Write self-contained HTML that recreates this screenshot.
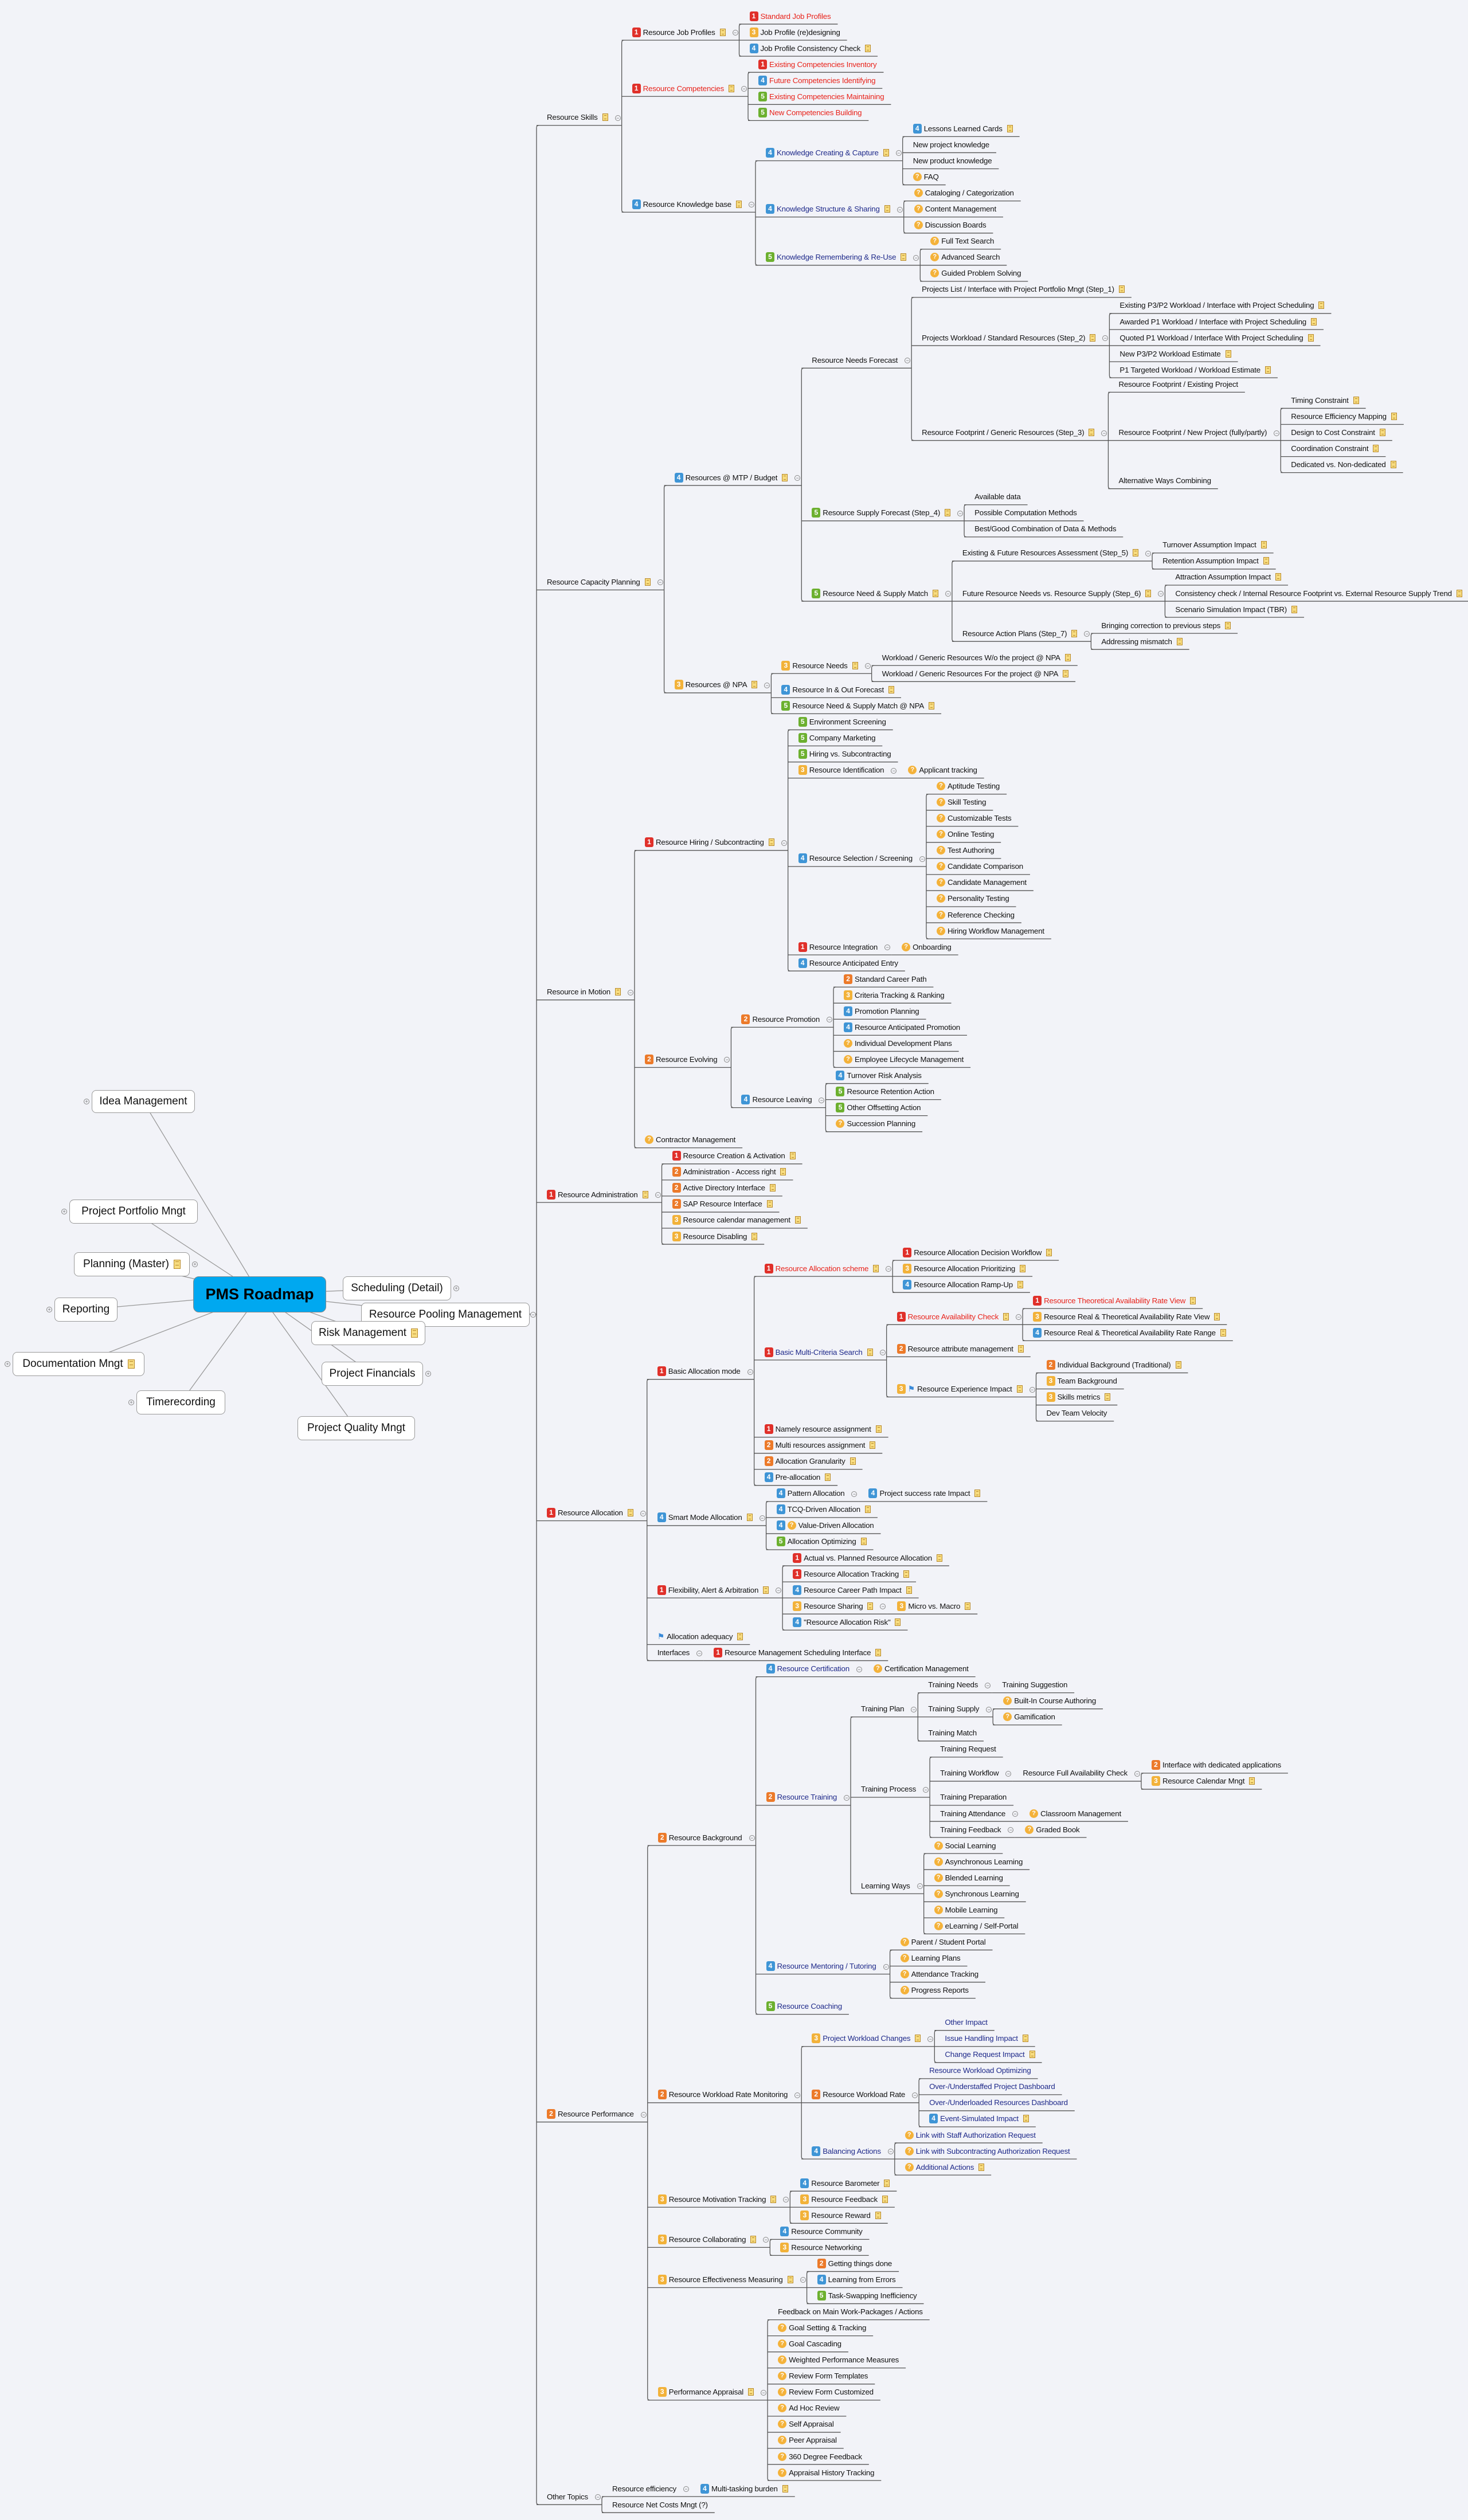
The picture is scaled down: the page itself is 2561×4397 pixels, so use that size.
<!DOCTYPE html>
<html><head><meta charset="utf-8">
<style>
html,body{margin:0;padding:0;}
body{width:2561px;height:4397px;background:#f2f3f8;position:relative;overflow:hidden;font-family:"Liberation Sans",sans-serif;}
#svg{position:absolute;left:0;top:0;}
.nd{position:absolute;height:26px;display:flex;align-items:center;white-space:nowrap;font-size:13.3px;letter-spacing:-0.2px;color:#111;}
.bd{display:inline-block;width:15px;height:17px;border-radius:3px;color:#fff;font-size:12px;font-weight:bold;text-align:center;line-height:17px;margin-right:4px;letter-spacing:0;}
.q{display:inline-block;width:15px;height:15px;border-radius:8px;background:#f4b23a;color:#fff;font-size:11px;font-weight:bold;text-align:center;line-height:15px;margin-right:4px;letter-spacing:0;}
.fl{display:inline-block;color:#3a8ad8;font-size:14px;margin-right:4px;}
.nt{display:inline-block;width:10px;height:13px;background:#f7dc80;border:1px solid #b8892a;margin-left:8px;box-sizing:border-box;position:relative;}
.nt:after{content:"";position:absolute;left:2px;right:2px;top:2px;height:5px;border-top:1px solid #b8892a;border-bottom:1px solid #b8892a;}
.box{position:absolute;background:#fff;border:1.5px solid #999;border-radius:8px;box-sizing:border-box;display:flex;align-items:center;justify-content:center;font-size:19px;color:#111;white-space:nowrap;}
.cc{position:absolute;width:10px;height:10px;border:1px solid #888;border-radius:6px;background:#f2f3f8;box-sizing:border-box;font-size:9px;line-height:8px;text-align:center;color:#666;}
</style></head><body>
<svg id="svg" width="2561" height="4397"></svg>
<div id="root"></div>
<script>
var T=`73|n|Resource Skills
  20|1n|Resource Job Profiles
    10|1r|Standard Job Profiles
    20|3|Job Profile (re)designing
    30|4n|Job Profile Consistency Check
  55|1rn|Resource Competencies
    40|1r|Existing Competencies Inventory
    50|4r|Future Competencies Identifying
    60|5r|Existing Competencies Maintaining
    70|5r|New Competencies Building
  127|4n|Resource Knowledge base
    95|4bn|Knowledge Creating & Capture
      80|4n|Lessons Learned Cards
      90||New project knowledge
      100||New product knowledge
      110|?|FAQ
    130|4bn|Knowledge Structure & Sharing
      120|?|Cataloging / Categorization
      130|?|Content Management
      140|?|Discussion Boards
    160|5bn|Knowledge Remembering & Re-Use
      150|?|Full Text Search
      160|?|Advanced Search
      170|?|Guided Problem Solving
362|n|Resource Capacity Planning
  297|4n|Resources @ MTP / Budget
    224||Resource Needs Forecast
      180|n|Projects List / Interface with Project Portfolio Mngt (Step_1)
      210|n|Projects Workload / Standard Resources (Step_2)
        190|n|Existing P3/P2 Workload / Interface with Project Scheduling
        200|n|Awarded P1 Workload / Interface with Project Scheduling
        210|n|Quoted P1 Workload / Interface With Project Scheduling
        220|n|New P3/P2 Workload Estimate
        230|n|P1 Targeted Workload / Workload Estimate
      269|n|Resource Footprint / Generic Resources (Step_3)
        239||Resource Footprint / Existing Project
        269||Resource Footprint / New Project (fully/partly)
          249|n|Timing Constraint
          259|n|Resource Efficiency Mapping
          269|n|Design to Cost Constraint
          279|n|Coordination Constraint
          289|n|Dedicated vs. Non-dedicated
        299||Alternative Ways Combining
    319|5n|Resource Supply Forecast (Step_4)
      309||Available data
      319||Possible Computation Methods
      329||Best/Good Combination of Data & Methods
    369|5n|Resource Need & Supply Match
      344|n|Existing & Future Resources Assessment (Step_5)
        339|n|Turnover Assumption Impact
        349|n|Retention Assumption Impact
      369|n|Future Resource Needs vs. Resource Supply (Step_6)
        359|n|Attraction Assumption Impact
        369|n|Consistency check / Internal Resource Footprint vs. External Resource Supply Trend
        379|n|Scenario Simulation Impact (TBR)
      394|n|Resource Action Plans (Step_7)
        389|n|Bringing correction to previous steps
        399|n|Addressing mismatch
  426|3n|Resources @ NPA
    414|3n|Resource Needs
      409|n|Workload / Generic Resources W/o the project @ NPA
      419|n|Workload / Generic Resources For the project @ NPA
    429|4n|Resource In & Out Forecast
    439|5n|Resource Need & Supply Match @ NPA
617|n|Resource in Motion
  524|1n|Resource Hiring / Subcontracting
    449|5|Environment Screening
    459|5|Company Marketing
    469|5|Hiring vs. Subcontracting
    479|3|Resource Identification
      479|?|Applicant tracking
    534|4|Resource Selection / Screening
      489|?|Aptitude Testing
      499|?|Skill Testing
      509|?|Customizable Tests
      519|?|Online Testing
      529|?|Test Authoring
      539|?|Candidate Comparison
      549|?|Candidate Management
      559|?|Personality Testing
      569|?|Reference Checking
      579|?|Hiring Workflow Management
    589|1|Resource Integration
      589|?|Onboarding
    599|4|Resource Anticipated Entry
  659|2|Resource Evolving
    634|2|Resource Promotion
      609|2|Standard Career Path
      619|3|Criteria Tracking & Ranking
      629|4|Promotion Planning
      639|4|Resource Anticipated Promotion
      649|?|Individual Development Plans
      659|?|Employee Lifecycle Management
    684|4|Resource Leaving
      669|4|Turnover Risk Analysis
      679|5|Resource Retention Action
      689|5|Other Offsetting Action
      699|?|Succession Planning
  709|?|Contractor Management
743|1n|Resource Administration
  719|1n|Resource Creation & Activation
  729|2n|Administration - Access right
  739|2n|Active Directory Interface
  749|2n|SAP Resource Interface
  759|3n|Resource calendar management
  769|3n|Resource Disabling
941|1n|Resource Allocation
  853|1|Basic Allocation mode
    789|1rn|Resource Allocation scheme
      779|1n|Resource Allocation Decision Workflow
      789|3n|Resource Allocation Prioritizing
      799|4n|Resource Allocation Ramp-Up
    841|1bn|Basic Multi-Criteria Search
      819|1rn|Resource  Availability Check
        809|1rn|Resource Theoretical Availability Rate View
        819|3n|Resource Real & Theoretical Availability Rate View
        829|4n|Resource Real & Theoretical Availability Rate Range
      839|2n|Resource attribute management
      864|3fn|Resource Experience Impact
        849|2n|Individual Background (Traditional)
        859|3|Team Background
        869|3n|Skills metrics
        879||Dev Team Velocity
    889|1n|Namely resource assignment
    899|2n|Multi resources assignment
    909|2n|Allocation Granularity
    919|4n|Pre-allocation
  944|4n|Smart Mode Allocation
    929|4|Pattern Allocation
      929|4n|Project success rate Impact
    939|4n|TCQ-Driven Allocation
    949|4?|Value-Driven Allocation
    959|5n|Allocation Optimizing
  989|1n|Flexibility, Alert & Arbitration
    969|1n|Actual vs. Planned Resource Allocation
    979|1n|Resource Allocation Tracking
    989|4n|Resource Career Path Impact
    999|3n|Resource Sharing
      999|3n|Micro vs. Macro
    1009|4n|"Resource Allocation Risk"
  1018|fn|Allocation adequacy
  1028||Interfaces
    1028|1n|Resource Management Scheduling Interface
1315|2|Resource Performance
  1143|2|Resource Background
    1038|4b|Resource Certification
      1038|?|Certification Management
    1118|2b|Resource Training
      1063||Training Plan
        1048||Training Needs
          1048||Training Suggestion
        1063||Training Supply
          1058|?|Built-In Course Authoring
          1068|?|Gamification
        1078||Training Match
      1113||Training Process
        1088||Training Request
        1103||Training Workflow
          1103||Resource Full Availability Check
            1098|2|Interface with dedicated applications
            1108|3n|Resource Calendar Mngt
        1118||Training Preparation
        1128||Training Attendance
          1128|?|Classroom Management
        1138||Training Feedback
          1138|?|Graded Book
      1173||Learning Ways
        1148|?|Social Learning
        1158|?|Asynchronous Learning
        1168|?|Blended Learning
        1178|?|Synchronous Learning
        1188|?|Mobile Learning
        1198|?|eLearning / Self-Portal
    1223|4b|Resource Mentoring / Tutoring
      1208|?|Parent / Student Portal
      1218|?|Learning Plans
      1228|?|Attendance Tracking
      1238|?|Progress Reports
    1248|5b|Resource Coaching
  1303|2|Resource Workload Rate Monitoring
    1268|3bn|Project Workload Changes
      1258|b|Other Impact
      1268|bn|Issue Handling Impact
      1278|bn|Change Request Impact
    1303|2|Resource Workload Rate
      1288|b|Resource Workload Optimizing
      1298|b|Over-/Understaffed Project Dashboard
      1308|b|Over-/Underloaded Resources Dashboard
      1318|4bn|Event-Simulated Impact
    1338|4b|Balancing Actions
      1328|?b|Link with Staff Authorization Request
      1338|?b|Link with Subcontracting Authorization Request
      1348|?bn|Additional Actions
  1368|3n|Resource Motivation Tracking
    1358|4n|Resource Barometer
    1368|3n|Resource Feedback
    1378|3n|Resource Reward
  1393|3n|Resource Collaborating
    1388|4|Resource Community
    1398|3|Resource Networking
  1418|3n|Resource Effectiveness Measuring
    1408|2|Getting things done
    1418|4|Learning from Errors
    1428|5|Task-Swapping Inefficiency
  1488|3n|Performance Appraisal
    1438||Feedback on Main Work-Packages / Actions
    1448|?|Goal Setting & Tracking
    1458|?|Goal Cascading
    1468|?|Weighted Performance Measures
    1478|?|Review Form Templates
    1488|?|Review Form Customized
    1498|?|Ad Hoc Review
    1508|?|Self Appraisal
    1518|?|Peer Appraisal
    1528|?|360 Degree Feedback
    1538|?|Appraisal History Tracking
1553||Other Topics
  1548||Resource efficiency
    1548|4n|Multi-tasking burden
  1558||Resource Net Costs Mngt (?)`;
var BC={1:'#e0302a',2:'#ec7a2a',3:'#f2b23a',4:'#3f95d6',5:'#6cb02f'};
var root={children:[],lvl:-1};var stack=[root];
T.split('\n').forEach(function(l){var ind=l.match(/^ */)[0].length/2;var p=l.trim().split('|');
 var n={y:+p[0],f:p[1],t:p.slice(2).join('|'),children:[],lvl:ind};
 while(stack.length>ind+1)stack.pop();stack[stack.length-1].children.push(n);stack.push(n);});
var R=document.getElementById('root'),S=document.getElementById('svg'),P='';
function uy(t){return t*2.805+14;}
function line(x1,y1,x2,y2,c){P+='<line x1="'+x1+'" y1="'+y1+'" x2="'+x2+'" y2="'+y2+'" stroke="'+(c||'#555')+'" stroke-width="1.3"/>';}
function circ(x,y){var d=document.createElement('div');d.className='cc';d.style.left=(x-5)+'px';d.style.top=(y-5)+'px';d.textContent='−';R.appendChild(d);}
function place(n,x,startX){
 var d=document.createElement('div');d.className='nd';var h='';var f=n.f;
 for(var i=0;i<f.length;i++){var c=f[i];if(BC[c])h+='<span class="bd" style="background:'+BC[c]+'">'+c+'</span>';else if(c=='?')h+='<span class="q">?</span>';else if(c=='f')h+='<span class="fl">&#9873;</span>';}
 var col=f.indexOf('r')>=0?'#e8231b':(f.indexOf('b')>=0?'#1f2a8a':'#111');
 h+='<span style="color:'+col+'">'+n.t.replace(/&/g,'&amp;').replace(/</g,'&lt;')+'</span>';
 if(f.indexOf('n')>=0)h+='<span class="nt"></span>';
 d.innerHTML=h;var Y=uy(n.y);d.style.left=x+'px';d.style.top=(Y-27)+'px';R.appendChild(d);
 var w=d.getBoundingClientRect().width;var end=x+w;
 if(n.children.length){var bx=end+24;line(startX,Y,bx,Y);circ(bx-7,Y-13);
  var ys=n.children.map(function(c){return uy(c.y);});var y0=Math.min.apply(0,ys),y1=Math.max.apply(0,ys);
  if(y1>y0)P+='<path d="M'+(bx+4)+','+y0+' Q'+bx+','+y0+' '+bx+','+(y0+4)+' L'+bx+','+(y1-4)+' Q'+bx+','+y1+' '+(bx+4)+','+y1+'" fill="none" stroke="#555" stroke-width="1.3"/>';
  n.children.forEach(function(c){place(c,bx+18,bx);});}
 else line(startX,Y,end+12,Y);
}
var tx=936;var ly=root.children.map(function(c){return uy(c.y);});
P+='<path d="M'+(tx+4)+','+ly[0]+' Q'+tx+','+ly[0]+' '+tx+','+(ly[0]+4)+' L'+tx+','+(ly[ly.length-1]-4)+' Q'+tx+','+ly[ly.length-1]+' '+(tx+4)+','+ly[ly.length-1]+'" fill="none" stroke="#555" stroke-width="1.3"/>';
line(924,2293,tx,2293);
root.children.forEach(function(c){place(c,954,tx);});
var cx=453,cy=2258;
var B=[[160,1902,180,40,'Idea Management',0,'l'],[121,2093,224,42,'Project Portfolio Mngt',0,'l'],[129,2185,202,42,'Planning (Master)',1,'r'],[95,2264,110,42,'Reporting',0,'l'],[22,2359,230,42,'Documentation Mngt',1,'l'],[238,2426,155,42,'Timerecording',0,'l'],[519,2471,205,42,'Project Quality Mngt',0,''],[561,2376,177,42,'Project Financials',0,'r'],[630,2273,294,42,'Resource Pooling Management',0,''],[543,2305,199,42,'Risk Management',1,''],[598,2227,189,42,'Scheduling (Detail)',0,'r']];
B.forEach(function(b){line(cx,cy,b[0]+b[2]/2,b[1]+b[3]/2,'#999');});
S.innerHTML=P;
B.forEach(function(b){var d=document.createElement('div');d.className='box';d.style.left=b[0]+'px';d.style.top=b[1]+'px';d.style.width=b[2]+'px';d.style.height=b[3]+'px';
 d.innerHTML=b[4].replace(/&/g,'&amp;')+(b[5]?'<span class="nt" style="width:12px;height:16px"></span>':'');R.appendChild(d);
 if(b[6]){var c=document.createElement('div');c.className='cc';c.textContent='+';c.style.top=(b[1]+b[3]/2-5)+'px';c.style.left=(b[6]=='l'?b[0]-14:b[0]+b[2]+4)+'px';R.appendChild(c);}});
circ(930,2294);
var c=document.createElement('div');c.className='box';c.style.cssText='left:337px;top:2227px;width:232px;height:63px;background:#00a8f0;border:1.5px solid #888;border-radius:10px;font-size:27px;font-weight:bold;color:#000;';c.textContent='PMS Roadmap';R.appendChild(c);
</script>
</body></html>
